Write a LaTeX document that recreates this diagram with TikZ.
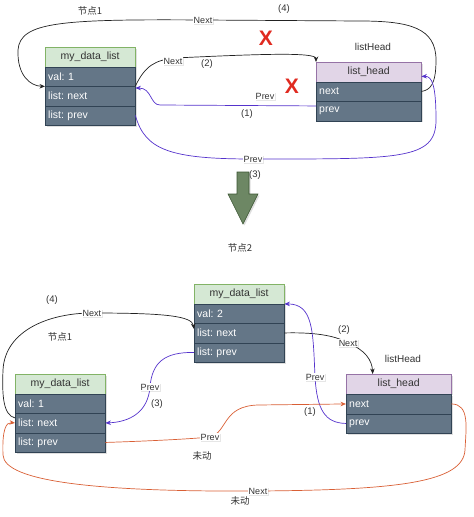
\documentclass[tikz,border=0pt]{standalone}
\usepackage{fontspec}
\setmainfont{Liberation Sans}
\newfontfamily\cjk{Noto Sans CJK SC}
\usetikzlibrary{arrows.meta,shadows}
\definecolor{gfill}{HTML}{D5E8D4}
\definecolor{gline}{HTML}{82B366}
\definecolor{pfill}{HTML}{E1D5E7}
\definecolor{pline}{HTML}{9673A6}
\definecolor{rfill}{HTML}{647687}
\definecolor{rline}{HTML}{314354}
\definecolor{purp}{HTML}{5533CC}
\definecolor{orng}{HTML}{D95F35}
\definecolor{blk}{HTML}{222222}
\definecolor{txt}{HTML}{333333}
\definecolor{bigarrow}{HTML}{6D8764}
\definecolor{bigline}{HTML}{3A5431}
\definecolor{redx}{HTML}{E02A20}
\frenchspacing
\begin{document}
\begin{tikzpicture}[x=1pt,y=-1pt,
  shd/.style={drop shadow={shadow xshift=1.5pt,shadow yshift=-1.5pt,opacity=0.25}},
  boxbase/.style={anchor=north west,inner xsep=3pt,inner ysep=0pt,minimum height=19.5pt,
    font=\fontsize{10.5}{12}\selectfont},
  hdrg/.style={boxbase,draw=gline,fill=gfill,text=txt,align=center},
  hdrp/.style={boxbase,draw=pline,fill=pfill,text=txt,align=center},
  rowc/.style={boxbase,draw=rline,fill=rfill,text=white,align=left},
  w90/.style={text width=84pt},
  w105/.style={text width=99pt},
  elabel/.style={fill=white,text=txt,inner sep=1pt,font=\fontsize{9}{10}\selectfont,
    drop shadow={shadow xshift=1pt,shadow yshift=-1pt,opacity=0.2}},
  plain/.style={text=txt,inner sep=0pt,font=\fontsize{9.5}{11}\selectfont},
  cjkl/.style={text=txt,inner sep=0pt,font=\cjk\fontsize{9.5}{11}\selectfont},
  xmark/.style={text=redx,inner sep=0pt,font=\bfseries\fontsize{21}{22}\selectfont},
  tip/.style={-{Stealth[length=5.5pt,width=4.5pt]}},
  bconn/.style={draw=blk,line width=0.7pt,tip},
  pconn/.style={draw=purp,line width=0.7pt,tip},
  oconn/.style={draw=orng,line width=0.7pt,tip}
]
\useasboundingbox (0,0) rectangle (474,517);

% ---------- top diagram ----------
\begin{scope}[every node/.append style={shd}]
\node[hdrg,w90] (t1h) at (45,47) {my\_data\_list};
\node[rowc,w90] (t1v) at (45,66.5) {val: 1};
\node[rowc,w90] (t1n) at (45,86) {list: next};
\node[rowc,w90] (t1p) at (45,105.5) {list: prev};
\node[hdrp,w105] (h1h) at (316,62) {list\_head};
\node[rowc,w105] (h1n) at (316,81.5) {next};
\node[rowc,w105] (h1p) at (316,101) {prev};
\end{scope}

\coordinate (c4) at (203,20);
\coordinate (c2) at (175,58);
\coordinate (c3) at (253,159);

\draw[bconn] (h1n.east) .. controls (430,90) and (436,85) .. (436,60)
  .. controls (436,28) and (410,21) .. (360,21) -- (c4)
  .. controls (60,19) and (20,22) .. (18,50)
  .. controls (17,75) and (30,86) .. (t1v.south west);
\draw[bconn] (t1n.north east) .. controls (145,66) and (155,60) .. (c2)
  .. controls (260,54) and (316,52) .. (h1h.north west);
\draw[pconn] ([yshift=5pt]h1p.west) -- (160,105) .. controls (150,105) and (152,88) .. ([yshift=-2pt]t1n.north east);
\draw[pconn] (t1p.east) .. controls (145,150) and (170,159) .. (c3)
  .. controls (400,159) and (436,160) .. (436,120)
  .. controls (436,85) and (432,76) .. ([yshift=-4.5pt]h1h.east);

\node[elabel] (lt4) at (c4) {Next};
\node[elabel] (lt2) at (173,61) {Next};
\node[elabel] (lt1) at (265,96) {Prev};
\node[elabel] (lt3) at (c3) {Prev};

\node[cjkl] (k1) at (90,11) {节点1};
\node[plain] (n4) at (284,9) {(4)};
\node[plain,font=\fontsize{10}{12}\selectfont] (lh1) at (373,47) {listHead};
\node[plain] (n2) at (207,64) {(2)};
\node[plain] (n1) at (247,114) {(1)};
\node[plain] (n3) at (255,175) {(3)};
\node[xmark] (x1) at (266,38) {X};
\node[xmark] (x2) at (292,86) {X};

% ---------- big arrow ----------
\draw[fill=bigarrow,draw=bigline,line width=0.6pt,shd]
  (237,172) -- (249,172) -- (249,194) -- (258,194) -- (243,224) -- (228,194) -- (237,194) -- cycle;
\node[cjkl] (k2) at (240,248) {节点2};

% ---------- bottom diagram ----------
\begin{scope}[every node/.append style={shd}]
\node[hdrg,w90] (m2h) at (194,284) {my\_data\_list};
\node[rowc,w90] (m2v) at (194,303.5) {val: 2};
\node[rowc,w90] (m2n) at (194,323) {list: next};
\node[rowc,w90] (m2p) at (194,342.5) {list: prev};
\node[hdrg,w90] (m1h) at (15,374) {my\_data\_list};
\node[rowc,w90] (m1v) at (15,393.5) {val: 1};
\node[rowc,w90] (m1n) at (15,413) {list: next};
\node[rowc,w90] (m1p) at (15,432.5) {list: prev};
\node[hdrp,w105] (h2h) at (346,374) {list\_head};
\node[rowc,w105] (h2n) at (346,394) {next};
\node[rowc,w105] (h2p) at (346,413.5) {prev};
\end{scope}

\coordinate (c5) at (92,313);
\coordinate (c6) at (348,343);
\coordinate (c7) at (315,377);
\coordinate (c8) at (150,387);
\coordinate (c9) at (210,437);
\coordinate (c10) at (258,491);

\draw[bconn] ([yshift=5pt]m1n.west) .. controls (3,415) and (2,395) .. (3,370)
  .. controls (5,330) and (50,313) .. (c5)
  .. controls (165,313) and (192,316) .. ([yshift=-6pt]m2n.north west);
\draw[bconn] (m2n.east) .. controls (320,332) and (338,337) .. (c6)
  .. controls (365,350) and (372,360) .. ([xshift=-26pt]h2h.north);
\draw[pconn] (h2p.west) .. controls (325,423) and (317,410) .. (c7)
  .. controls (313,330) and (313,304) .. (m2h.south east);
\draw[pconn] (m2p.west) .. controls (165,352) and (152,362) .. (c8)
  .. controls (148,412) and (130,422) .. (m1n.east);
\draw[oconn] (m1p.east) .. controls (150,441) and (190,439) .. (c9)
  .. controls (228,432) and (222,406) .. (258,405) -- (h2n.west);
\draw[oconn] (h2n.east) .. controls (470,404) and (466,428) .. (465,450)
  .. controls (463,482) and (400,490) .. (c10)
  .. controls (100,492) and (4,482) .. (3,455)
  .. controls (2,430) and (6,422) .. (m1n.west);

\node[elabel] (lb4) at (c5) {Next};
\node[elabel] (lb2) at (c6) {Next};
\node[elabel] (lb1) at (c7) {Prev};
\node[elabel] (lb3) at (c8) {Prev};
\node[elabel] (lbp) at (c9) {Prev};
\node[elabel] (lbn) at (c10) {Next};

\node[plain] (b4) at (52,300) {(4)};
\node[cjkl] (k3) at (60,337) {节点1};
\node[plain] (b2) at (344,330) {(2)};
\node[plain,font=\fontsize{10}{12}\selectfont] (lh2) at (403,359) {listHead};
\node[plain] (b3) at (157,404) {(3)};
\node[plain] (b1) at (310,412) {(1)};
\node[cjkl] (u1) at (202,456) {未动};
\node[cjkl] (u2) at (240,501) {未动};
\end{tikzpicture}
\end{document}
